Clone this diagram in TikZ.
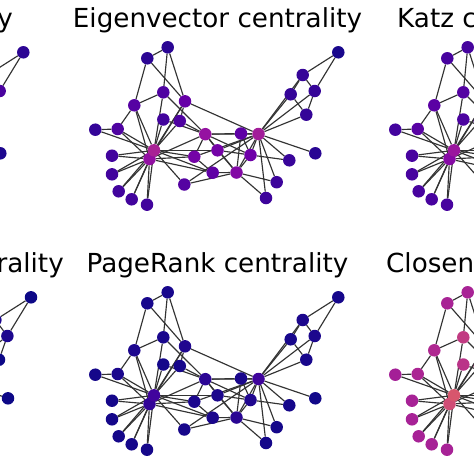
\documentclass[tikz,border=0pt]{standalone}
\usepackage{fontspec}
\setmainfont{DejaVu Sans}
\pgfdeclarelayer{back}
\pgfdeclarelayer{bg}
\pgfsetlayers{back,bg,main}
\definecolor{plasma0}{HTML}{0D0887}
\definecolor{plasma1}{HTML}{41049D}
\definecolor{plasma2}{HTML}{6A00A8}
\definecolor{plasma3}{HTML}{8F0DA4}
\definecolor{plasma4}{HTML}{B12A90}
\definecolor{plasma5}{HTML}{CC4778}
\definecolor{plasma6}{HTML}{E16462}
\definecolor{plasma7}{HTML}{F2844B}
\def\PX{{258.5,236.5,205.3,250.5,290.7,314.7,302.7,241,194.3,163.3,306.3,315.3,289.3,217.5,112,112,338.3,276.7,118.7,184.3,131.7,266,147,134.3,167.7,147.3,95.3,163.3,179.8,117.7,212.7,185,149.5,154}}
\def\PY{{134,172.5,134.2,155,94.3,91,75,133.5,156.7,119.5,114.7,153.3,160.3,150.3,155.7,174.3,52.3,182.2,191.3,184.5,199.3,198,204.7,105.3,47.3,58.3,129.7,92.3,121,129,172.7,101.3,159,150.3}}
\def\VDEG{{0.4848,0.2727,0.3030,0.1818,0.0909,0.1212,0.1212,0.1212,0.1515,0.0606,0.0909,0.0303,0.0606,0.1515,0.0606,0.0606,0.0606,0.0606,0.0606,0.0909,0.0606,0.0606,0.0606,0.1515,0.0909,0.0909,0.0606,0.1212,0.0909,0.1212,0.1212,0.1818,0.3636,0.5152}}
\def\VEIG{{0.3555,0.2660,0.3172,0.2112,0.0760,0.0795,0.0795,0.1710,0.2274,0.1027,0.0760,0.0529,0.0843,0.2265,0.1014,0.1014,0.0236,0.0924,0.1014,0.1479,0.1014,0.0924,0.1014,0.1501,0.0571,0.0592,0.0756,0.1335,0.1311,0.1350,0.1748,0.1910,0.3087,0.3734}}
\def\VKATZ{{0.3214,0.2357,0.2679,0.1956,0.1197,0.1268,0.1268,0.1662,0.2026,0.1248,0.1197,0.0941,0.1112,0.1963,0.1172,0.1172,0.0931,0.1142,0.1172,0.1521,0.1172,0.1142,0.1172,0.1646,0.1111,0.1140,0.1056,0.1469,0.1419,0.1551,0.1700,0.2012,0.2765,0.3312}}
\def\VBET{{0.4376,0.0539,0.1437,0.0119,0.0006,0.0300,0.0300,0,0.0559,0.0008,0.0006,0,0,0.0459,0,0,0,0,0,0.0325,0,0,0,0.0176,0.0022,0.0038,0,0.0223,0.0018,0.0029,0.0145,0.1383,0.1452,0.3041}}
\def\VPR{{0.0970,0.0529,0.0571,0.0359,0.0220,0.0291,0.0291,0.0245,0.0298,0.0143,0.0220,0.0096,0.0146,0.0295,0.0145,0.0145,0.0168,0.0146,0.0145,0.0196,0.0145,0.0146,0.0145,0.0315,0.0211,0.0210,0.0150,0.0256,0.0196,0.0263,0.0246,0.0372,0.0717,0.1009}}
\def\VCLO{{0.5690,0.4853,0.5593,0.4648,0.3793,0.3837,0.3837,0.4400,0.5156,0.4342,0.3793,0.3667,0.3708,0.5156,0.3708,0.3708,0.2845,0.3750,0.3708,0.5000,0.3708,0.3750,0.3708,0.3929,0.3750,0.3750,0.3626,0.4583,0.4521,0.3837,0.4583,0.5410,0.5156,0.5500}}
\def\EDGES{0/1,0/2,0/3,0/4,0/5,0/6,0/7,0/8,0/10,0/11,0/12,0/13,0/17,0/19,0/21,0/31,1/2,1/3,1/7,1/13,1/17,1/19,1/21,1/30,2/3,2/7,2/8,2/9,2/13,2/27,2/28,2/32,3/7,3/12,3/13,4/6,4/10,5/6,5/10,5/16,6/16,8/30,8/32,8/33,9/33,13/33,14/32,14/33,15/32,15/33,18/32,18/33,19/33,20/32,20/33,22/32,22/33,23/25,23/27,23/29,23/32,23/33,24/25,24/27,24/31,25/31,26/29,26/33,27/33,28/31,28/33,29/32,29/33,30/32,30/33,31/32,31/33,32/33}
\tikzset{
  vtx/.style={circle, inner sep=0pt, minimum size=12.5pt, draw=none},
  edge/.style={draw=black!80, line width=1.15pt},
  ttl/.style={inner sep=0pt, font=\fontsize{26.2}{30}\selectfont}
}
\newcommand\drawpanel[4]{%
\begin{scope}
\clip (0,0) rectangle (474,474);
\foreach \i in {0,...,33}{%
  \pgfmathsetmacro\cpx{\PX[\i]+(#2)}%
  \pgfmathsetmacro\cpy{\PY[\i]+(#3)}%
  \pgfmathsetmacro\cpv{#4[\i]*10}%
  \pgfmathtruncatemacro\cpk{floor(\cpv)}%
  \pgfmathtruncatemacro\cpkk{\cpk+1}%
  \pgfmathsetmacro\cpt{(\cpv-\cpk)*100}%
  \colorlet{vcol}{plasma\cpkk!\cpt!plasma\cpk}%
  \node[vtx,fill=vcol] (#1\i) at (\cpx,\cpy) {};
}
\end{scope}
\begin{pgfonlayer}{bg}
\begin{scope}
\clip (0,0) rectangle (474,474);
\foreach \a/\b in \EDGES {\draw[edge] (#1\a) -- (#1\b);}
\end{scope}
\end{pgfonlayer}}
\begin{document}
\begin{tikzpicture}[x=1pt,y=-1pt]
\useasboundingbox (0,0) rectangle (474,474);
\begin{pgfonlayer}{back}
\fill[white] (0,0) rectangle (474,474);
\end{pgfonlayer}
\drawpanel{D}{-315}{0}{\VDEG}
\drawpanel{E}{0}{0}{\VEIG}
\drawpanel{K}{300}{0}{\VKATZ}
\drawpanel{B}{-307.3}{245}{\VBET}
\drawpanel{P}{0}{245}{\VPR}
\drawpanel{C}{300}{245}{\VCLO}
\begin{scope}
\clip (0,0) rectangle (474,474);
\node[ttl, anchor=base east] (t1) at (13,27) {Degree centrality};
\node[ttl, anchor=base] (t2) at (217.5,27) {Eigenvector centrality};
\node[ttl, anchor=base west] (t3) at (397,27) {Katz centrality};
\node[ttl, anchor=base east] (t4) at (64,272) {Betweenness centrality};
\node[ttl, anchor=base] (t5) at (217.5,272) {PageRank centrality};
\node[ttl, anchor=base west] (t6) at (386,272) {Closeness centrality};
\end{scope}
\end{tikzpicture}
\end{document}
